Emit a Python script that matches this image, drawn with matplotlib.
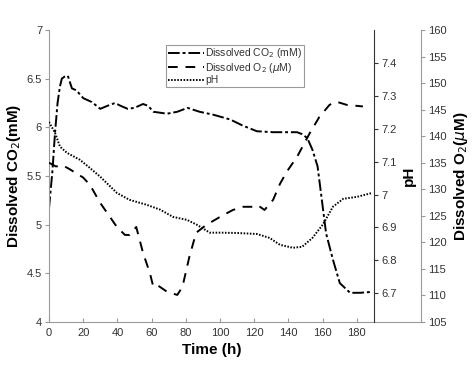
import matplotlib
matplotlib.use("Agg")
import matplotlib.pyplot as plt

plt.rcParams['font.family'] = ['Liberation Sans', 'DejaVu Sans']

# data
t_co2 = [0, 2, 3.5, 5, 6.4, 7.5, 9, 11, 13.4, 16, 20, 25, 30, 34, 38.6, 42, 46, 50,
         55, 58, 61, 65, 69, 75, 81, 88, 96, 106, 113, 121.5, 131, 145, 148, 151,
         154, 157, 162, 166, 170, 176, 182, 189]
co2 = [5.17, 5.55, 5.94, 6.25, 6.42, 6.50, 6.52, 6.53, 6.40, 6.38, 6.30, 6.26, 6.19,
       6.22, 6.25, 6.22, 6.19, 6.20, 6.24, 6.22, 6.16, 6.15, 6.14, 6.16, 6.20, 6.16,
       6.13, 6.08, 6.02, 5.96, 5.95, 5.95, 5.93, 5.89, 5.77, 5.60, 4.91, 4.64, 4.40,
       4.30, 4.30, 4.31]

t_o2 = [0, 4, 8, 12, 16, 20, 24, 30, 35.6, 39.7, 44.4, 47, 51, 55, 59, 61, 64, 69,
        75, 78, 82, 86, 92, 100, 107.5, 113.5, 119, 122, 126, 131, 135, 139, 145,
        152.5, 158, 164, 168, 174, 183.5]
o2 = [135.0, 134.3, 134.5, 133.8, 133.0, 132.2, 130.8, 127.4, 124.8, 122.9, 121.4,
      121.4, 122.9, 118.0, 114.2, 111.6, 111.8, 110.7, 110.1, 111.6, 117.2, 121.8,
      123.3, 124.8, 126.1, 126.7, 126.7, 127.0, 126.1, 128.0, 131.0, 133.3, 136.1,
      140.6, 143.6, 145.9, 146.5, 145.9, 145.6]

t_ph = [0, 3.5, 6.4, 10.5, 18, 23, 30, 39.7, 47, 57, 65, 72.5, 80.6, 86.5, 94, 100,
        110, 121.5, 129, 135, 142.6, 148, 154, 160, 166, 172, 180, 189]
ph = [7.221, 7.188, 7.146, 7.127, 7.106, 7.085, 7.054, 7.005, 6.984, 6.969, 6.954,
      6.932, 6.923, 6.908, 6.884, 6.884, 6.883, 6.880, 6.868, 6.847, 6.838, 6.841,
      6.868, 6.908, 6.963, 6.987, 6.993, 7.005]

x_ticks = list(range(0, 181, 20))
co2_ticks = [4, 4.5, 5, 5.5, 6, 6.5, 7]
ph_ticks = [6.7, 6.8, 6.9, 7.0, 7.1, 7.2, 7.3, 7.4]
o2_ticks = list(range(105, 161, 5))

grey = '#9a9a9a'
txt = '#333333'

fig = plt.figure(figsize=(4.74, 3.77), dpi=100)
ax = fig.add_axes([49 / 474, 55 / 377, 325 / 474, 292 / 377])
ax2 = ax.twinx()
ax3 = ax.twinx()

l1, = ax.plot(t_co2, co2, color='black', lw=1.4, dashes=(6, 1.5, 1.5, 1.5))
l2, = ax3.plot(t_o2, o2, color='black', lw=1.4, dashes=(5, 4))
l3, = ax2.plot(t_ph, ph, color='black', lw=1.4, dashes=(0.8, 0.8))

ax.set_xlim(0, 190)
ax.set_ylim(4, 7)
ax2.set_ylim(6.612, 7.501)
ax3.set_ylim(105, 160)

ax.set_xticks(x_ticks)
ax.set_yticks(co2_ticks)
ax.set_yticklabels(['4', '4.5', '5', '5.5', '6', '6.5', '7'])
ax2.set_yticks(ph_ticks)
ax2.set_yticklabels(['6.7', '6.8', '6.9', '7', '7.1', '7.2', '7.3', '7.4'])
ax3.set_yticks(o2_ticks)

for a in (ax, ax2, ax3):
    for s in a.spines.values():
        s.set_visible(False)
    a.tick_params(labelsize=8, labelcolor=txt, length=3, width=0.8, color=grey, pad=2)

ax.spines['left'].set_visible(True)
ax.spines['left'].set_color(grey)
ax.spines['bottom'].set_visible(True)
ax.spines['bottom'].set_color(grey)
ax.spines['bottom'].set_bounds(0, 190 + 47 / 1.711)
ax.tick_params(axis='x', direction='in', pad=4)

ax2.spines['right'].set_visible(True)
ax2.spines['right'].set_color('#333333')
ax2.tick_params(color='#333333')

ax3.spines['right'].set_visible(True)
ax3.spines['right'].set_color(grey)
ax3.spines['right'].set_position(('outward', 47 * 72 / 100))

ax.set_xlabel('Time (h)', fontsize=11, fontweight='bold', labelpad=4)
ax.set_ylabel('Dissolved CO$_2$(mM)', fontsize=11, fontweight='bold', labelpad=3)
ax2.set_ylabel('pH', fontsize=11, fontweight='bold', labelpad=4)
ax3.set_ylabel(r'Dissolved O$_2$($\mu$M)', fontsize=11, fontweight='bold', labelpad=4)

leg = ax.legend([l1, l2, l3],
                ['Dissolved CO$_2$ (mM)', r'Dissolved O$_2$ ($\mu$M)', 'pH'],
                loc='upper left', bbox_to_anchor=(0.36, 0.95), fontsize=7.5,
                frameon=True, fancybox=False, framealpha=1, handlelength=3.5,
                handletextpad=0.1, borderpad=0.15, labelspacing=0.05,
                borderaxespad=0)
leg.get_frame().set_edgecolor(grey)
leg.get_frame().set_linewidth(0.8)
for t in leg.get_texts():
    t.set_color(txt)

fig.savefig('out.png', dpi=100)
